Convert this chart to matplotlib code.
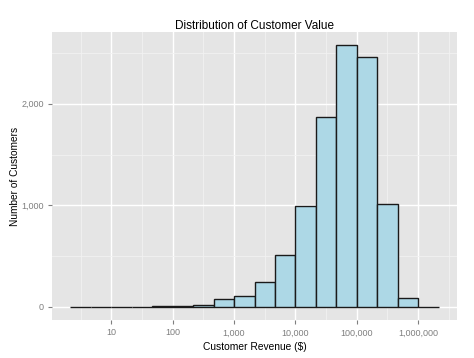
import numpy as np
import matplotlib
matplotlib.use("Agg")
import matplotlib.pyplot as plt
from matplotlib.ticker import FixedLocator, FuncFormatter, NullFormatter

# Data: histogram of customer revenue in log10 bins of width 1/3
bin_edges_log10 = [i / 3 for i in range(1, 20)]
counts = [1, 1, 2, 1, 6, 8, 18, 75, 104, 245, 513, 993, 1869, 2578, 2464, 1010, 88, 2]
x_ticks = [10, 100, 1000, 10000, 100000, 1000000]
x_tick_labels = ["10", "100", "1,000", "10,000", "100,000", "1,000,000"]
y_ticks = [0, 1000, 2000]
y_tick_labels = ["0", "1,000", "2,000"]

plt.rcParams['font.family'] = ['Liberation Sans', 'DejaVu Sans']

fig = plt.figure(figsize=(4.74, 3.58), dpi=100)
ax = fig.add_axes([52/474, 1 - 320/358, (457-52)/474, (320-32)/358])

edges = 10 ** np.array(bin_edges_log10)
centers = np.sqrt(edges[:-1] * edges[1:])
ax.hist(centers, bins=edges, weights=counts, color='#ADD8E6', edgecolor='#1a1a1a',
        linewidth=1.0, zorder=3)

ax.set_xscale('log')
lo, hi = bin_edges_log10[0], bin_edges_log10[-1]
pad = 0.05 * (hi - lo)
ax.set_xlim(10 ** (lo - pad), 10 ** (hi + pad))
ymax = max(counts)
ax.set_ylim(-0.05 * ymax, 1.05 * ymax)

ax.set_facecolor('#E5E5E5')
for s in ax.spines.values():
    s.set_visible(False)

ax.xaxis.set_major_locator(FixedLocator(x_ticks))
ax.xaxis.set_major_formatter(FuncFormatter(lambda v, p: x_tick_labels[x_ticks.index(v)] if v in x_ticks else ""))
ax.xaxis.set_minor_locator(FixedLocator([10 ** (k + 0.5) for k in range(0, 7)]))
ax.xaxis.set_minor_formatter(NullFormatter())
ax.yaxis.set_major_locator(FixedLocator(y_ticks))
ax.set_yticklabels(y_tick_labels)
ax.yaxis.set_minor_locator(FixedLocator([500, 1500, 2500]))

ax.grid(which='major', color='white', linewidth=1.0, zorder=0)
ax.grid(which='minor', color='#F2F2F2', linewidth=0.6, zorder=0)
ax.set_axisbelow(True)

ax.tick_params(which='major', length=3, width=0.8, color='#7F7F7F', labelcolor='#7F7F7F',
               labelsize=6.5, pad=3)
ax.tick_params(which='minor', length=0)

ax.set_xlabel('Customer Revenue ($)', fontsize=7.4, color='black', labelpad=3)
ax.set_ylabel('Number of Customers', fontsize=7.3, color='black', labelpad=0.5)
ax.set_title('Distribution of Customer Value', fontsize=8.5, color='black', pad=1.5)

fig.savefig('out.png', dpi=100, facecolor='white')
